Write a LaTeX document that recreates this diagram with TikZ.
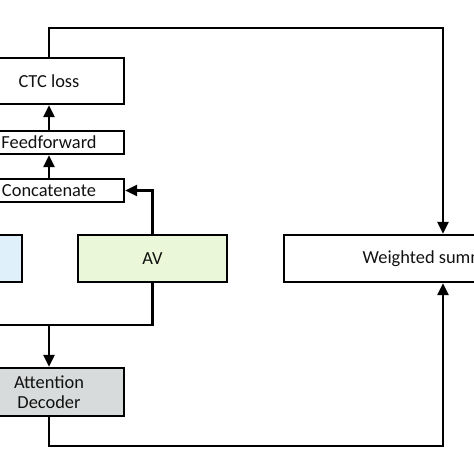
\documentclass[tikz,border=0pt]{standalone}
\usepackage{fontspec}
\setmainfont{Carlito}
\usetikzlibrary{arrows.meta}
\definecolor{bluefill}{HTML}{E0F0FA}
\definecolor{greenfill}{HTML}{EAF7D8}
\definecolor{grayfill}{HTML}{D8DBDB}
\definecolor{txt}{HTML}{111111}
\begin{document}
\begin{tikzpicture}[x=1pt,y=-1pt,
  box/.style={draw=black,line width=2.3pt,rectangle,inner sep=0pt,text=txt,
    font=\fontsize{18.4}{22}\selectfont,align=center},
  conn/.style={draw=black,line width=2.3pt},
  arr/.style={conn,-{Triangle[length=12pt,width=11pt]}}]
\useasboundingbox (0,0) rectangle (474,474);
\clip (0,0) rectangle (474,474);
\node[box,minimum width=150pt,minimum height=46pt] (ctc) at (49,81) {CTC loss};
\node[box,minimum width=150pt,minimum height=23pt] (ff) at (49,142.5) {Feedforward};
\node[box,minimum width=150pt,minimum height=23pt] (cat) at (49,190.5) {Concatenate};
\node[box,fill=bluefill,minimum width=150pt,minimum height=47pt] (blue) at (-53,258.5) {};
\node[box,fill=greenfill,minimum width=149pt,minimum height=47pt] (av) at (152.5,258.5) {AV};
\node[box,fill=grayfill,minimum width=150pt,minimum height=48pt] (att) at (49,392) {Attention\\[-2pt]Decoder};
\node[box,minimum width=318pt,minimum height=47pt] (ws) at (443,258.5) {Weighted summation};
\coordinate (top) at (49,28);
\coordinate (j) at (49,325);
\coordinate (bot) at (49,446);
\draw[arr] (ctc.north) -- (top) -| (ws.north);
\draw[arr] (ff.north) -- (ctc.south);
\draw[arr] (cat.north) -- (ff.south);
\draw[arr] (av.north) |- (cat.east);
\draw[conn] (av.south) |- (j) -| (blue.south);
\draw[arr] (j) -- (att.north);
\draw[arr] (att.south) -- (bot) -| (ws.south);
\end{tikzpicture}
\end{document}
